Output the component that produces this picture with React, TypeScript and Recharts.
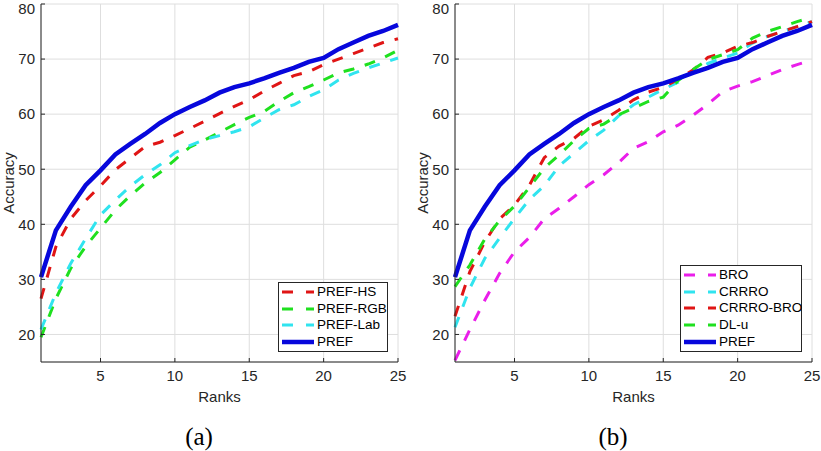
import React from 'react';
import { LineChart, Line, XAxis, YAxis, CartesianGrid, Legend } from 'recharts';

// ranks on the x axis
const ranks = [1, 2, 3, 4, 5, 6, 7, 8, 9, 10, 11, 12, 13, 14, 15, 16, 17, 18, 19, 20, 21, 22, 23, 24, 25];

// accuracy (%) per rank
const pref = [30.4, 38.9, 43.2, 47.1, 49.8, 52.7, 54.6, 56.4, 58.4, 60.0, 61.3, 62.5, 63.9, 64.9, 65.6, 66.5, 67.5, 68.4, 69.5, 70.2, 71.8, 73.0, 74.2, 75.1, 76.2];
const prefHS = [26.5, 35.9, 41.0, 44.3, 47.0, 49.9, 52.0, 54.1, 54.9, 56.1, 57.4, 58.7, 60.1, 61.4, 62.6, 64.2, 65.6, 67.0, 67.7, 69.0, 70.0, 71.0, 72.0, 73.0, 73.7];
const prefRGB = [19.5, 26.5, 32.0, 36.0, 39.3, 42.6, 45.2, 47.5, 49.4, 51.7, 54.0, 55.3, 56.7, 58.1, 59.4, 60.5, 62.3, 63.9, 65.0, 66.2, 67.5, 68.2, 69.1, 70.2, 71.6];
const prefLab = [20.9, 27.5, 32.9, 37.4, 41.7, 44.4, 46.9, 49.0, 50.8, 53.0, 54.3, 55.4, 56.1, 56.8, 57.7, 59.3, 60.8, 61.7, 63.2, 64.4, 66.2, 67.4, 68.4, 69.3, 70.2];

const bro = [15.3, 20.9, 26.2, 31.1, 35.0, 37.6, 41.0, 42.9, 45.0, 47.2, 49.0, 51.2, 53.8, 55.0, 56.8, 58.0, 59.8, 61.8, 64.1, 65.1, 65.9, 67.0, 68.1, 69.0, 69.8];
const crrro = [21.3, 28.4, 33.8, 37.5, 41.1, 44.5, 47.0, 50.6, 52.9, 55.2, 57.1, 59.7, 61.7, 63.1, 64.5, 65.8, 67.7, 69.2, 70.2, 71.1, 72.9, 74.1, 75.0, 75.9, 76.8];
const crrroBro = [23.3, 31.4, 36.8, 41.0, 43.5, 47.1, 52.1, 54.2, 55.6, 57.8, 59.0, 60.7, 62.6, 64.0, 64.9, 66.3, 68.0, 70.3, 71.1, 72.3, 73.0, 74.1, 75.0, 75.9, 76.8];
const dlU = [28.7, 32.6, 37.3, 40.7, 43.3, 46.7, 50.2, 52.6, 55.2, 57.4, 58.2, 59.9, 61.1, 62.3, 63.1, 66.1, 68.1, 69.9, 70.8, 71.7, 73.8, 75.0, 75.9, 76.8, 77.6];

const xTicks = [5, 10, 15, 20, 25];
const yTicks = [20, 30, 40, 50, 60, 70, 80];

const FONT = '"Liberation Sans", Arial, sans-serif';
const AXIS = '#262626';
const GRID = '#dedede';
const DASH = '11 11';

type Series = { key: string; name: string; color: string; dashed: boolean; values: number[] };

const leftSeries: Series[] = [
  { key: 'prefHS', name: 'PREF-HS', color: '#e01515', dashed: true, values: prefHS },
  { key: 'prefRGB', name: 'PREF-RGB', color: '#1fe01f', dashed: true, values: prefRGB },
  { key: 'prefLab', name: 'PREF-Lab', color: '#30e4ef', dashed: true, values: prefLab },
  { key: 'pref', name: 'PREF', color: '#0707dc', dashed: false, values: pref },
];

const rightSeries: Series[] = [
  { key: 'bro', name: 'BRO', color: '#ea1eea', dashed: true, values: bro },
  { key: 'crrro', name: 'CRRRO', color: '#30e4ef', dashed: true, values: crrro },
  { key: 'crrroBro', name: 'CRRRO-BRO', color: '#e01515', dashed: true, values: crrroBro },
  { key: 'dlU', name: 'DL-u', color: '#1fe01f', dashed: true, values: dlU },
  { key: 'pref', name: 'PREF', color: '#0707dc', dashed: false, values: pref },
];

function buildRows(series: Series[]) {
  return ranks.map((r, i) => {
    const row: Record<string, number> = { rank: r };
    series.forEach((s) => {
      row[s.key] = s.values[i];
    });
    return row;
  });
}

function LegendBox({ series, width }: { series: Series[]; width: number }) {
  return (
    <div
      style={{
        width,
        boxSizing: 'border-box',
        border: `1px solid ${AXIS}`,
        background: '#fff',
        padding: '1px 0 1px 3px',
        fontFamily: FONT,
        fontSize: 13.5,
        color: '#000',
        whiteSpace: 'nowrap',
      }}
    >
      {series.map((s) => (
        <div key={s.key} style={{ display: 'flex', alignItems: 'center', height: 16.6 }}>
          <svg width={32} height={8} style={{ flex: 'none' }}>
            <line
              x1={0}
              y1={4}
              x2={32}
              y2={4}
              stroke={s.color}
              strokeWidth={s.dashed ? 3 : 4.5}
              strokeDasharray={s.dashed ? '11 13' : undefined}
            />
          </svg>
          <span style={{ marginLeft: 3, lineHeight: '16px' }}>{s.name}</span>
        </div>
      ))}
    </div>
  );
}

function Panel({
  series,
  width,
  marginRight,
  legendPos,
  legendWidth,
}: {
  series: Series[];
  width: number;
  marginRight: number;
  legendPos: { left: number; top: number };
  legendWidth: number;
}) {
  const data = buildRows(series);
  return (
    <LineChart width={width} height={410} data={data} margin={{ top: 4, right: marginRight, bottom: 0, left: 0 }}>
      <CartesianGrid stroke={GRID} strokeWidth={1} />
      <XAxis
        dataKey="rank"
        type="number"
        domain={[1, 25]}
        ticks={xTicks}
        height={48}
        stroke={AXIS}
        tickSize={-4}
        tickMargin={12}
        tick={{ fill: AXIS, fontSize: 15, fontFamily: FONT }}
        label={{ value: 'Ranks', position: 'insideBottom', offset: 8, fill: AXIS, fontSize: 15, fontFamily: FONT }}
      />
      <YAxis
        type="number"
        domain={[15, 80]}
        ticks={yTicks}
        width={41}
        stroke={AXIS}
        tickSize={-4}
        tickMargin={10}
        allowDataOverflow
        tick={{ fill: AXIS, fontSize: 15, fontFamily: FONT }}
        label={{
          value: 'Accuracy',
          angle: -90,
          position: 'insideLeft',
          offset: 9,
          fill: AXIS,
          fontSize: 15,
          fontFamily: FONT,
          style: { textAnchor: 'middle' },
        }}
      />
      {series.map((s) => (
        <Line
          key={s.key}
          type="linear"
          dataKey={s.key}
          name={s.name}
          stroke={s.color}
          strokeWidth={s.dashed ? 3 : 4.5}
          strokeDasharray={s.dashed ? DASH : undefined}
          dot={false}
          activeDot={false}
          isAnimationActive={false}
        />
      ))}
      <Legend
        layout="vertical"
        align="center"
        verticalAlign="middle"
        wrapperStyle={{ left: legendPos.left, top: legendPos.top, width: legendWidth, bottom: 'auto', right: 'auto' }}
        content={() => <LegendBox series={series} width={legendWidth} />}
      />
    </LineChart>
  );
}

export default function App() {
  const caption: React.CSSProperties = {
    position: 'absolute',
    top: 421,
    width: 60,
    textAlign: 'center',
    fontFamily: '"Liberation Serif", "Times New Roman", serif',
    fontSize: 25,
    color: '#000',
    lineHeight: '32px',
  };
  return (
    <div style={{ position: 'absolute', left: 0, top: 0, width: 821, height: 451, background: '#fff', overflow: 'hidden' }}>
      <div style={{ position: 'absolute', left: 0, top: 0 }}>
        <Panel series={leftSeries} width={410} marginRight={12} legendPos={{ left: 278, top: 282 }} legendWidth={110} />
      </div>
      <div style={{ position: 'absolute', left: 414, top: 0 }}>
        <Panel series={rightSeries} width={407} marginRight={9} legendPos={{ left: 266, top: 265 }} legendWidth={122} />
      </div>
      <div style={{ ...caption, left: 169 }}>(a)</div>
      <div style={{ ...caption, left: 583 }}>(b)</div>
    </div>
  );
}
